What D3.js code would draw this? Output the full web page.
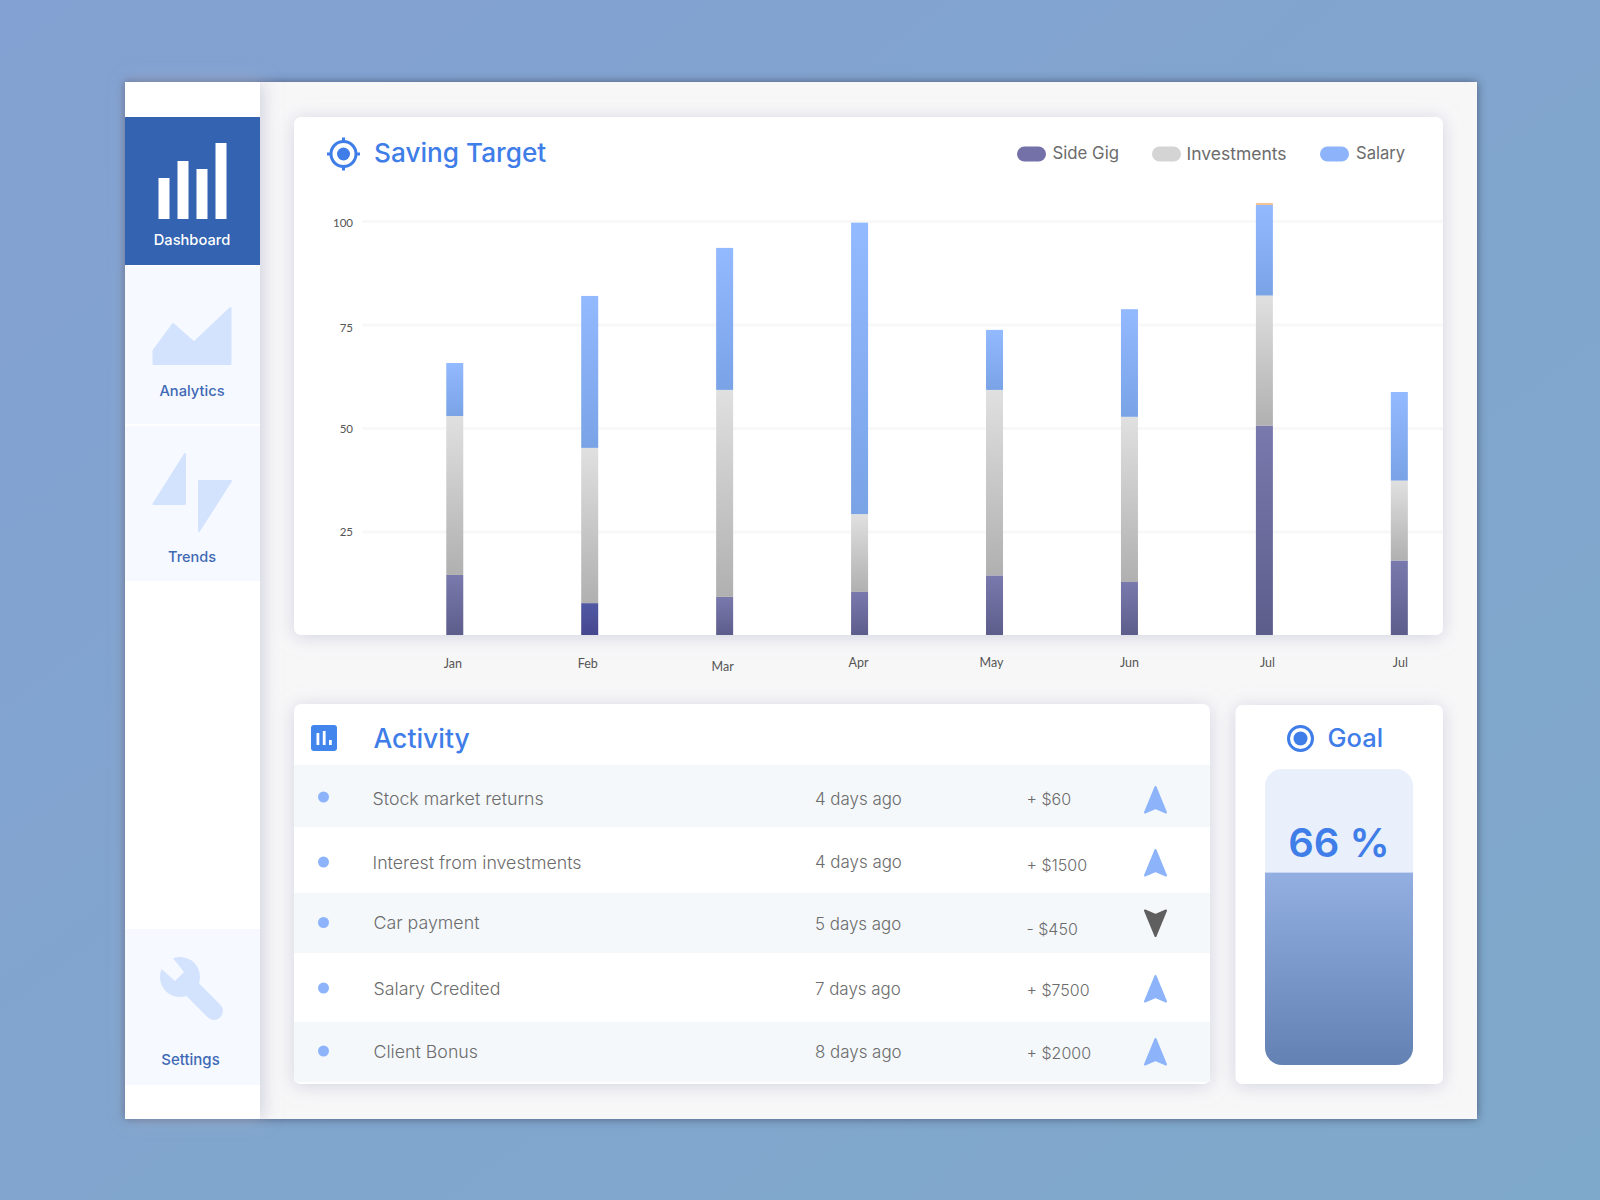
<!DOCTYPE html>
<html>
<head>
<meta charset="utf-8">
<title>Saving Target</title>
<script src="https://cdn.jsdelivr.net/npm/d3@7"></script>
<style>
    html, body { margin: 0; padding: 0; background: #82a5cf; }
    svg { display: block; font-family: Inter, "Noto Sans", sans-serif; }
</style>
</head>
<body>
<div id="chart"></div>
<script>
// chart values
const months = ['Jan', 'Feb', 'Mar', 'Apr', 'May', 'Jun', 'Jul', 'Jul']
const sideGig = [14.5, 7.7, 9.2, 10.4, 14.4, 12.8, 50.6, 18]
const investments = [38.4, 37.5, 50, 18.8, 44.8, 39.9, 31.4, 19.3]
const salary = [12.8, 36.7, 34.3, 70.4, 14.5, 26, 21.9, 21.4]
const other = [0, 0, 0, 0, 0, 0, 0.4, 0]
const yTicks = [25, 50, 75, 100]
const legendNames = ['Side Gig', 'Investments', 'Salary']

const activityNames = ['Stock market returns', 'Interest from investments', 'Car payment', 'Salary Credited', 'Client Bonus']
const activityAges = ['4 days ago', '4 days ago', '5 days ago', '7 days ago', '8 days ago']
const activityAmounts = ['+ $60', '+ $1500', '- $450', '+ $7500', '+ $2000']
const activityUp = [true, true, false, true, true]

const goalLabel = '66 %'
const goalFill = 65

const navNames = ['Dashboard', 'Analytics', 'Trends', 'Settings']

// colours
const blue = '#3f7de8'
const greyText = '#6c6c6c'
const navBlue = '#3f69b5'
const iconBlue = '#d3e3fd'
const tileBlue = '#f6f9ff'

const svg = d3.select('#chart')
    .append('svg')
    .attr('width', 1600)
    .attr('height', 1200)

const defs = svg.append('defs')

function addGradient(id, stops, x2, y2) {
    const g = defs.append('linearGradient')
        .attr('id', id)
        .attr('x1', 0).attr('y1', 0)
        .attr('x2', x2).attr('y2', y2)
    stops.forEach((c, i) => {
        g.append('stop').attr('offset', i / (stops.length - 1)).attr('stop-color', c)
    })
}

function addShadow(id, dx, dy, blur, color, opacity) {
    defs.append('filter')
        .attr('id', id)
        .attr('x', '-20%').attr('y', '-20%')
        .attr('width', '140%').attr('height', '140%')
        .append('feDropShadow')
        .attr('dx', dx).attr('dy', dy)
        .attr('stdDeviation', blur)
        .attr('flood-color', color)
        .attr('flood-opacity', opacity)
}

addGradient('bg', ['#83a1d2', '#7fa9ca'], 1, 1)
addGradient('salaryFill', ['#93b9ff', '#7aa3e6'], 0, 1)
addGradient('investFill', ['#e0e0e0', '#b0b0b0'], 0, 1)
addGradient('sideFill', ['#7a79ad', '#5d5d8c'], 0, 1)
addGradient('sideFillDark', ['#5159a4', '#45478e'], 0, 1)
addGradient('goalFill', ['#93afe1', '#6381b3'], 0, 1)
addShadow('panelShadow', 0, 0, 5, '#3c4a66', 0.8)
addShadow('navShadow', 3, 0, 9, '#b4b4cc', 0.6)
addShadow('cardShadow', 0, 2, 9, '#b4b4cc', 0.55)

// page, panel and sidebar
svg.append('rect').attr('width', 1600).attr('height', 1200).attr('fill', 'url(#bg)')
svg.append('rect')
    .attr('x', 125).attr('y', 82)
    .attr('width', 1352).attr('height', 1037)
    .attr('fill', '#f7f7f8')
    .attr('filter', 'url(#panelShadow)')
svg.append('rect')
    .attr('x', 125).attr('y', 82)
    .attr('width', 135).attr('height', 1037)
    .attr('fill', '#fff')
    .attr('filter', 'url(#navShadow)')

const navTiles = [
    { top: 117, bottom: 265, fill: '#3363b1' },
    { top: 266, bottom: 424, fill: tileBlue },
    { top: 426, bottom: 581, fill: tileBlue },
    { top: 929, bottom: 1085, fill: tileBlue }
]
const navBaselines = [244.5, 396, 562, 1064.5]
const navSizes = [14.7, 14.7, 14.5, 15]

svg.append('g')
    .selectAll('rect')
    .data(navTiles)
    .enter()
    .append('rect')
    .attr('x', 125)
    .attr('y', d => d.top)
    .attr('width', 135)
    .attr('height', d => d.bottom - d.top)
    .attr('fill', d => d.fill)

svg.append('g')
    .selectAll('text')
    .data(navNames)
    .enter()
    .append('text')
    .attr('x', (d, i) => i === 3 ? 190.5 : 192)
    .attr('y', (d, i) => navBaselines[i])
    .attr('text-anchor', 'middle')
    .attr('font-size', (d, i) => navSizes[i])
    .attr('font-weight', 500)
    .attr('fill', (d, i) => i === 0 ? '#fff' : navBlue)
    .text(d => d)

// sidebar icons
const dashBars = svg.append('g').attr('fill', '#fff')
const dashIcon = [[158.5, 178], [177.5, 161], [196.5, 169], [215.5, 143]]
dashIcon.forEach(b => {
    dashBars.append('rect').attr('x', b[0]).attr('y', b[1]).attr('width', 11).attr('height', 219 - b[1])
})

svg.append('path')
    .attr('d', 'M153.5,364 V350.5 L173,324 L194,342.5 L230.5,308 V364 Z')
    .attr('fill', iconBlue).attr('stroke', iconBlue).attr('stroke-width', 2).attr('stroke-linejoin', 'round')
svg.append('path')
    .attr('d', 'M153.5,504 L185,454 V504 Z M199,481 H231 L199,531 Z')
    .attr('fill', iconBlue).attr('stroke', iconBlue).attr('stroke-width', 2).attr('stroke-linejoin', 'round')

const wrench = svg.append('g')
wrench.append('circle').attr('cx', 180).attr('cy', 977).attr('r', 20).attr('fill', iconBlue)
wrench.append('line')
    .attr('x1', 182).attr('y1', 979).attr('x2', 214).attr('y2', 1011)
    .attr('stroke', iconBlue).attr('stroke-width', 18).attr('stroke-linecap', 'round')
wrench.append('path')
    .attr('d', 'M156,964 L175,981 L184,972 L168,952 Z')
    .attr('fill', tileBlue)

// cards
const cards = [
    { x: 294, y: 117, w: 1149, h: 518 },
    { x: 294, y: 704, w: 916, h: 380 },
    { x: 1235.5, y: 705, w: 207.5, h: 379 }
]
svg.append('g')
    .selectAll('rect')
    .data(cards)
    .enter()
    .append('rect')
    .attr('x', d => d.x).attr('y', d => d.y)
    .attr('width', d => d.w).attr('height', d => d.h)
    .attr('rx', 7)
    .attr('fill', '#fff')
    .attr('filter', 'url(#cardShadow)')

// saving target header
const target = svg.append('g').attr('transform', 'translate(343.5,154)')
target.append('circle').attr('r', 12.5).attr('fill', 'none').attr('stroke', blue).attr('stroke-width', 3)
target.append('circle').attr('r', 6.5).attr('fill', blue)
const crossTicks = [[0, -16.5, 0, -12], [0, 12, 0, 16.5], [-16.5, 0, -12, 0], [12, 0, 16.5, 0]]
crossTicks.forEach(t => {
    target.append('line')
        .attr('x1', t[0]).attr('y1', t[1]).attr('x2', t[2]).attr('y2', t[3])
        .attr('stroke', blue).attr('stroke-width', 3)
})

svg.append('text')
    .attr('x', 374).attr('y', 162)
    .attr('font-size', 26.2).attr('font-weight', 500)
    .attr('fill', blue)
    .text('Saving Target')

// legend
const legendSwatchX = [1017, 1152, 1320]
const legendBaseline = [159, 160, 159]
const legendTextX = [1052.5, 1186.5, 1356]
const legendSizes = [16.8, 17.5, 16.6]
const legendColors = ['#7471a8', '#d4d4d4', '#8db4fb']
const legend = svg.append('g')
    .selectAll('g')
    .data(legendNames)
    .enter()
    .append('g')
legend.append('rect')
    .attr('x', (d, i) => legendSwatchX[i])
    .attr('y', 146.5)
    .attr('width', 29).attr('height', 15)
    .attr('rx', 7.5)
    .attr('fill', (d, i) => legendColors[i])
legend.append('text')
    .attr('x', (d, i) => legendTextX[i])
    .attr('y', (d, i) => legendBaseline[i])
    .attr('font-size', (d, i) => legendSizes[i])
    .attr('font-weight', 400)
    .attr('fill', greyText)
    .text(d => d)

// stacked bars
const table = months.map((m, i) => ({
    index: i,
    sideGig: sideGig[i],
    investments: investments[i],
    salary: salary[i],
    other: other[i]
}))

const x = d3.scaleBand()
    .domain(table.map(d => d.index))
    .range([387.3, 1466.8])
    .paddingInner(0.874)
    .paddingOuter(0.437)

const y = d3.scaleLinear().domain([0, 100]).range([635, 221])

const tickFont = 'Lato, sans-serif'

const yAxis = svg.append('g')
    .attr('transform', 'translate(362,0)')
    .call(d3.axisLeft(y).tickValues(yTicks).tickSize(-1081).tickPadding(9))
yAxis.select('.domain').remove()
yAxis.selectAll('line').attr('stroke', '#f8f8f9').attr('stroke-width', 3)
// labels sit a little off their gridlines in the picture
const yLabelShift = [-2, -2, 1, -1]
yAxis.selectAll('text')
    .attr('font-family', tickFont)
    .attr('font-size', 11.5)
    .attr('fill', '#555')
    .attr('dy', '0.55em')
    .attr('transform', (d, i) => 'translate(0,' + yLabelShift[i] + ')')

const xAxis = svg.append('g')
    .attr('transform', 'translate(0,635)')
    .call(d3.axisBottom(x).tickSize(0).tickPadding(24).tickFormat(i => months[i]))
xAxis.select('.domain').remove()
// the labels do not sit on an even line in the picture
const tickShiftX = [-2, -2, -2, -1, -3, 0, 3, 1]
const tickShiftY = [0, 0, 3, -1, -1, -1, -1, -1]
xAxis.selectAll('text')
    .attr('font-family', tickFont)
    .attr('font-size', 12.5)
    .attr('fill', '#555')
    .attr('dx', (d, i) => tickShiftX[i])
    .attr('transform', (d, i) => 'translate(0,' + tickShiftY[i] + ')')

const seriesFill = {
    sideGig: 'url(#sideFill)',
    investments: 'url(#investFill)',
    salary: 'url(#salaryFill)',
    other: '#f6b77e'
}

const stacked = d3.stack().keys(['sideGig', 'investments', 'salary', 'other'])(table)

svg.append('g')
    .selectAll('g')
    .data(stacked)
    .enter()
    .append('g')
    .attr('data-series', d => d.key)
    .selectAll('rect')
    .data(d => d.filter(p => p[1] > p[0]).map(p => ({ key: d.key, p: p })))
    .enter()
    .append('rect')
    .attr('x', d => x(d.p.data.index))
    .attr('y', d => y(d.p[1]))
    .attr('width', x.bandwidth())
    .attr('height', d => y(d.p[0]) - y(d.p[1]))
    .attr('fill', d => {
        // Feb side gig is a deeper blue than the others
        if (d.key === 'sideGig' && d.p.data.index === 1) {
            return 'url(#sideFillDark)'
        }
        return seriesFill[d.key]
    })

// activity card
const activityIcon = svg.append('g')
activityIcon.append('rect')
    .attr('x', 311).attr('y', 725).attr('width', 26).attr('height', 26)
    .attr('rx', 3).attr('fill', '#4285ec')
const activityIconBars = [[316.5, 733], [322.8, 731], [329, 740]]
activityIconBars.forEach(b => {
    activityIcon.append('rect')
        .attr('x', b[0]).attr('y', b[1]).attr('width', 2.8).attr('height', 745 - b[1])
        .attr('fill', '#fff')
})

svg.append('text')
    .attr('x', 373.5).attr('y', 748)
    .attr('font-size', 26.5).attr('font-weight', 500)
    .attr('fill', blue)
    .text('Activity')

const rowBands = [[765, 827], [893, 953], [1022, 1082]]
svg.append('g')
    .selectAll('rect')
    .data(rowBands)
    .enter()
    .append('rect')
    .attr('x', 294).attr('y', d => d[0])
    .attr('width', 916).attr('height', d => d[1] - d[0])
    .attr('fill', '#f4f8fb')

const dotY = [797, 862, 922.5, 988, 1051]
const nameY = [804.5, 868.5, 928.5, 994.5, 1057.5]
const nameX = [372.5, 372.5, 373.5, 373.5, 373.5]
const ageY = [805, 868, 930, 995, 1058]
const amountY = [805, 871, 935, 996, 1059]
const arrowY = [800, 863, 923, 989, 1052]

const rows = svg.append('g')
    .selectAll('g')
    .data(activityNames)
    .enter()
    .append('g')
    .attr('fill', greyText)

rows.append('circle')
    .attr('cx', 323.5)
    .attr('cy', (d, i) => dotY[i])
    .attr('r', 5.5)
    .attr('fill', '#8db4fb')
rows.append('text')
    .attr('x', (d, i) => nameX[i])
    .attr('y', (d, i) => nameY[i])
    .attr('font-size', 17.8)
    .attr('font-weight', 300)
    .text(d => d)
rows.append('text')
    .attr('x', 815)
    .attr('y', (d, i) => ageY[i])
    .attr('font-size', 16.9)
    .attr('font-weight', 300)
    .text((d, i) => activityAges[i])
rows.append('text')
    .attr('x', 1026.5)
    .attr('y', (d, i) => amountY[i])
    .attr('font-size', 16)
    .attr('font-weight', 300)
    .text((d, i) => activityAmounts[i])
rows.append('path')
    .attr('d', 'M0,-13 L10.5,12.5 L0,8 L-10.5,12.5 Z')
    .attr('transform', (d, i) => 'translate(1155.5,' + arrowY[i] + ') rotate(' + (activityUp[i] ? 0 : 180) + ')')
    .attr('fill', (d, i) => activityUp[i] ? '#8db4fb' : '#5f5f5f')
    .attr('stroke', (d, i) => activityUp[i] ? '#8db4fb' : '#5f5f5f')
    .attr('stroke-width', 2)
    .attr('stroke-linejoin', 'round')

// goal card
const goalIcon = svg.append('g').attr('transform', 'translate(1300.5,738.5)')
goalIcon.append('circle').attr('r', 12).attr('fill', 'none').attr('stroke', blue).attr('stroke-width', 3)
goalIcon.append('circle').attr('r', 7).attr('fill', blue)

svg.append('text')
    .attr('x', 1327.5).attr('y', 747)
    .attr('font-size', 25.5).attr('font-weight', 500)
    .attr('fill', blue)
    .text('Goal')

const goalY = d3.scaleLinear().domain([0, 100]).range([1065, 769])

defs.append('clipPath')
    .attr('id', 'goalClip')
    .append('rect')
    .attr('x', 1265).attr('y', goalY(100))
    .attr('width', 148).attr('height', goalY(0) - goalY(100))
    .attr('rx', 17)

const goalBar = svg.append('g').attr('clip-path', 'url(#goalClip)')
goalBar.append('rect')
    .attr('x', 1265).attr('y', goalY(100))
    .attr('width', 148).attr('height', goalY(0) - goalY(100))
    .attr('fill', '#e9f0fb')
goalBar.append('rect')
    .attr('x', 1265).attr('y', goalY(goalFill))
    .attr('width', 148).attr('height', goalY(0) - goalY(goalFill))
    .attr('fill', 'url(#goalFill)')

svg.append('text')
    .attr('x', 1339).attr('y', 857)
    .attr('text-anchor', 'middle')
    .attr('font-size', 40).attr('font-weight', 600)
    .attr('fill', blue)
    .text(goalLabel)
</script>
</body>
</html>
